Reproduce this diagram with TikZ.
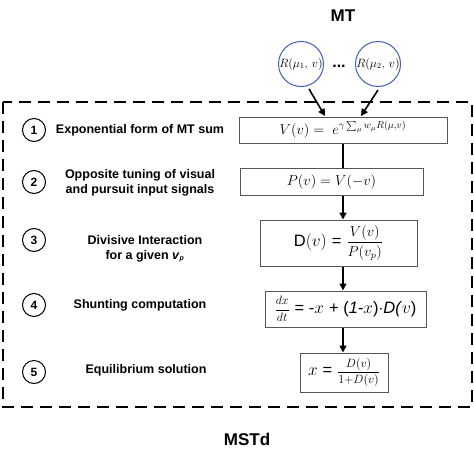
\documentclass[tikz,border=0pt]{standalone}
\usepackage{fontspec}
\setsansfont{Liberation Sans}
\usepackage{amsmath}
\usetikzlibrary{arrows.meta}
\definecolor{circblue}{RGB}{60,95,175}
\definecolor{boxgray}{RGB}{85,85,85}
\tikzset{
  lbl/.style={font=\sffamily\bfseries\fontsize{12.5}{14.5}\selectfont, align=center, text=black},
  num/.style={circle, draw=black, line width=1pt, minimum size=23pt, inner sep=0pt, font=\sffamily\bfseries\fontsize{12}{14}\selectfont},
  eq/.style={draw=boxgray, line width=1pt, inner sep=0pt, font=\fontsize{14}{16}\selectfont},
  eqbig/.style={eq, font=\fontsize{16.5}{18}\selectfont},
  mtc/.style={circle, draw=circblue, line width=1pt, minimum size=45pt, inner sep=0pt, font=\fontsize{11.5}{13}\selectfont},
  arr/.style={-{Triangle[length=7pt,width=7pt]}, line width=1.6pt},
  title/.style={font=\sffamily\bfseries\fontsize{17}{20}\selectfont}
}
\begin{document}
\begin{tikzpicture}[x=1pt,y=-1pt]
\useasboundingbox (0,0) rectangle (474,453);
% titles
\node[title] (mt) at (343,16) {MT};
\node[title] (mstd) at (247,439) {MSTd};
% dashed frame
\draw[dash pattern=on 12pt off 7pt, line width=2.6pt] (3,102) rectangle (472,407);
% MT circles
\node[mtc] (c1) at (301,64) {$R(\mu_1,\,v)$};
\node[mtc] (c2) at (378,64) {$R(\mu_2,\,v)$};
\node[font=\sffamily\bfseries\fontsize{16}{18}\selectfont] (dots) at (339,66) {...};
% equation boxes
\node[eq, font=\fontsize{14.5}{16}\selectfont, minimum width=208pt, minimum height=26pt] (b1) at (343,130) {$V(v)=\;e^{\gamma\sum_{\mu}w_{\mu}R(\mu,v)}$};
\node[eq, minimum width=183pt, minimum height=27pt] (b2) at (331.5,181.5) {$P(v)=V(-v)$};
\node[eqbig, minimum width=157pt, minimum height=46pt] (b3) at (338.5,243) {\textsf{D}$(v)$ \textsf{=} {\fontsize{14}{16}\selectfont$\dfrac{V(v)}{P(v_p)}$}};
\node[eqbig, minimum width=161pt, minimum height=36pt] (b4) at (345.5,309) {{\fontsize{13}{15}\selectfont$\dfrac{dx}{dt}$} \textsf{= -}$x$ \textsf{+ (\itshape 1-}$x$\textsf{)$\cdot$\itshape D(}$v$\textsf{)}};
\node[eqbig, minimum width=88pt, minimum height=39pt] (b5) at (344,372.5) {$x$ \textsf{=} {\fontsize{12}{14}\selectfont$\dfrac{D(v)}{1{+}D(v)}$}};
% arrows
\draw[arr] (c1.south) ++(8,2) coordinate (c1a) -- (325,116) coordinate (b1l);
\draw[arr] (c2.south) ++(0,3) coordinate (c2a) -- (361,116) coordinate (b1r);
\draw[line width=1.6pt] (b1.south -| 343,0) -- (b2.north -| 343,0);
\draw[arr] (b2.south -| 343,0) -- (b3.north -| 343,0);
\draw[arr] (b3.south -| 343,0) -- (b4.north -| 343,0);
\draw[arr] (b4.south -| 343,0) -- (b5.north -| 343,0);
% numbers and labels
\node[num] (n1) at (34,130) {1};
\node[num] (n2) at (34,182) {2};
\node[num] (n3) at (34,240) {3};
\node[num] (n4) at (34,305) {4};
\node[num] (n5) at (34,372) {5};
\node[lbl] (l1) at (140,130) {Exponential form of MT sum};
\node[lbl] (l2) at (140,183) {Opposite tuning of visual\\and pursuit input signals};
\node[lbl] (l3) at (145,249) {Divisive Interaction\\for a given \textit{v}$_{\textit{\scriptsize p}}$};
\node[lbl] (l4) at (140,305) {Shunting computation};
\node[lbl] (l5) at (146,370) {Equilibrium solution};
\end{tikzpicture}
\end{document}
